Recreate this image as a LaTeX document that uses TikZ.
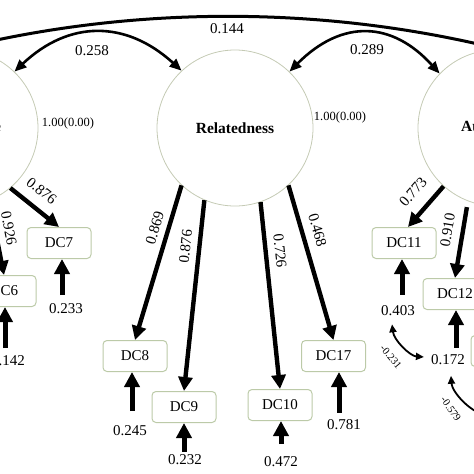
\documentclass[tikz,border=0pt]{standalone}
\usepackage{fontspec}
\setmainfont{Liberation Serif}
\usetikzlibrary{arrows.meta}
\definecolor{circc}{RGB}{196,202,180}
\definecolor{boxc}{RGB}{188,202,168}
\begin{document}
\begin{tikzpicture}[x=1pt,y=-1pt,
  lat/.style={circle, draw=circc, line width=0.8pt, minimum size=156pt, inner sep=0pt, font=\fontsize{15.5}{18}\selectfont\bfseries},
  obs/.style={draw=boxc, line width=1pt, rounded corners=4pt, minimum width=64pt, minimum height=31pt, inner sep=0pt, font=\fontsize{15}{18}\selectfont},
  num/.style={inner sep=1pt, font=\fontsize{15}{18}\selectfont},
  var/.style={inner sep=0pt, font=\fontsize{12.5}{15}\selectfont},
  load/.style={line width=4.4pt, -{Triangle[width=14pt,length=14pt]}},
  err/.style={line width=5pt, -{Triangle[width=15pt,length=15pt]}},
  cov/.style={line width=2.6pt, {Triangle[width=10pt,length=12pt]}-{Triangle[width=10pt,length=12pt]}},
  covs/.style={line width=1.8pt, {Triangle[width=7pt,length=8pt]}-{Triangle[width=7pt,length=8pt]}},
  lab/.style={sloped, above, font=\fontsize{15}{18}\selectfont},
  small/.style={inner sep=0pt, font=\fontsize{10.5}{12}\selectfont},
]
\useasboundingbox (0,0) rectangle (474,474);
% latent variables
\node[lat] (L) at (-40,128) {Competence};
\node[lat] (Rel) at (235,128) {Relatedness};
\node[lat] (A) at (496,128) {Autonomy};
\node[var] (vL) at (68,123) {1.00(0.00)};
\node[var] (vR) at (340,117) {1.00(0.00)};
% observed
\node[obs] (DC6) at (4,291) {DC6};
\node[obs] (DC7) at (59,243) {DC7};
\node[obs] (DC8) at (135,356) {DC8};
\node[obs] (DC9) at (184,407) {DC9};
\node[obs] (DC10) at (280,405) {DC10};
\node[obs] (DC17) at (333.5,356) {DC17};
\node[obs] (DC11) at (404,243) {DC11};
\node[obs] (DC12) at (455,294) {DC12};
\node[obs] (DC13) at (503,351) {};
% error labels
\node[num] (e6) at (8,361) {0.142};
\node[num] (e7) at (66,309) {0.233};
\node[num] (e8) at (130,431) {0.245};
\node[num] (e9) at (185,460) {0.232};
\node[num] (e10) at (281,462) {0.472};
\node[num] (e17) at (344,425) {0.781};
\node[num] (e11) at (398,311) {0.403};
\node[num] (e12) at (448,360) {0.172};
\coordinate (e13) at (492,416);
% error arrows
\draw[err] ([xshift=-3pt,yshift=6.5pt]e6.north) -- ([xshift=1pt]DC6.south);
\draw[err] ([xshift=-4pt,yshift=7.5pt]e7.north) -- ([xshift=3pt]DC7.south);
\draw[err] ([xshift=2pt,yshift=13.5pt]e8.north) -- ([xshift=-3pt]DC8.south);
\draw[err] ([xshift=-1pt,yshift=2pt]e9.north) -- (DC9.south);
\draw[err] ([yshift=11.5pt]e10.north) -- ([xshift=1pt]DC10.south);
\draw[err] ([xshift=-5pt,yshift=6pt]e17.north) -- ([xshift=5.5pt]DC17.south);
\draw[err] ([xshift=4pt,yshift=10pt]e11.north) -- ([xshift=-2pt]DC11.south);
\draw[err] ([xshift=8pt,yshift=6pt]e12.north) -- ([xshift=1pt]DC12.south);
% loadings
\draw[load] (L.310) -- node[lab, pos=0.42, inner sep=10pt] {0.876} (DC7.north);
\draw[load] (L.292) -- node[lab, pos=0.41, inner sep=6.5pt] {0.926} (DC6.north);
\draw[load] (Rel.227) -- node[lab, pos=0.3, inner sep=6pt] {0.869} (DC8.north);
\draw[load] (Rel.247) -- node[lab, pos=0.25, inner sep=6.5pt] {0.876} (DC9.north);
\draw[load] (Rel.289) -- node[lab, pos=0.27, inner sep=7pt] {0.726} (DC10.north);
\draw[load] (Rel.313) -- node[lab, pos=0.32, inner sep=8pt] {0.468} (DC17.north);
\draw[load] (A.228) -- node[lab, pos=0.45, inner sep=12pt] {0.773} ([xshift=4pt]DC11.north);
\draw[load, shorten <=6pt] (A.249) -- node[lab, pos=0.41, inner sep=8pt] {0.910} (DC12.north);
% covariances
\draw[cov] (L.46) .. controls (69,20) and (126,20) .. (Rel.133);
\node[num] (c258) at (92,51) {0.258};
\draw[cov] (Rel.46) .. controls (342,19) and (392,21) .. (A.136);
\node[num] (c289) at (367,50) {0.289};
\draw[cov, line width=3pt] (L.95) .. controls (136,6) and (320,6) .. (A.85);
\node[num] (c144) at (227,29) {0.144};
\draw[covs] ([xshift=-6pt,yshift=-7pt]e11.south) .. controls +(2,16) and +(-14,-1) .. ([xshift=-6pt,yshift=3pt]e12.west);
\node[small, rotate=-50] (c231) at (391,357) {-0.231};
\draw[covs] ([xshift=3pt,yshift=-9.5pt]e12.south) .. controls +(1,16) and +(-22,-4) .. (e13);
\node[small, rotate=-55] (c579) at (451,409) {-0.579};
\end{tikzpicture}
\end{document}
